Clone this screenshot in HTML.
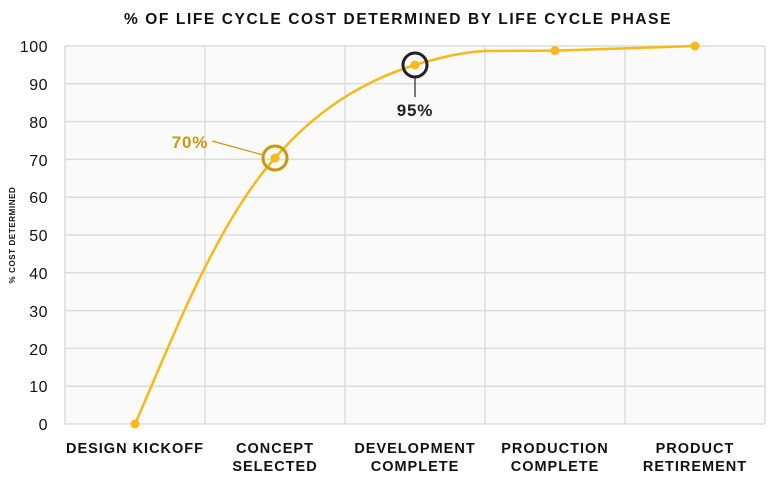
<!DOCTYPE html>
<html><head><style>
body{margin:0;background:#fff}
svg{display:block}
text{font-family:"Liberation Sans",sans-serif}
</style></head><body>
<svg width="773" height="482" viewBox="0 0 773 482">
<text x="398" y="24" text-anchor="middle" font-size="15.5" font-weight="bold" fill="#111" letter-spacing="1.6">% OF LIFE CYCLE COST DETERMINED BY LIFE CYCLE PHASE</text>
<rect x="65" y="46" width="700" height="378" fill="#fafafa"/>
<g stroke="#dcdcdc" stroke-width="1.5" fill="none">
<line x1="65" y1="46" x2="765" y2="46"/><line x1="65" y1="83.8" x2="765" y2="83.8"/><line x1="65" y1="121.6" x2="765" y2="121.6"/><line x1="65" y1="159.4" x2="765" y2="159.4"/><line x1="65" y1="197.2" x2="765" y2="197.2"/><line x1="65" y1="235" x2="765" y2="235"/><line x1="65" y1="272.8" x2="765" y2="272.8"/><line x1="65" y1="310.6" x2="765" y2="310.6"/><line x1="65" y1="348.4" x2="765" y2="348.4"/><line x1="65" y1="386.2" x2="765" y2="386.2"/><line x1="65" y1="424" x2="765" y2="424"/>
<line x1="65" y1="46" x2="65" y2="424"/><line x1="205" y1="46" x2="205" y2="424"/><line x1="345" y1="46" x2="345" y2="424"/><line x1="485" y1="46" x2="485" y2="424"/><line x1="625" y1="46" x2="625" y2="424"/><line x1="765" y1="46" x2="765" y2="424"/>
</g>
<g font-size="16" fill="#111" text-anchor="end" letter-spacing="0.5">
<text x="48" y="52">100</text><text x="48" y="90">90</text><text x="48" y="128">80</text><text x="48" y="166">70</text><text x="48" y="203">60</text><text x="48" y="241">50</text><text x="48" y="279">40</text><text x="48" y="317">30</text><text x="48" y="355">20</text><text x="48" y="392">10</text><text x="48" y="430">0</text>
</g>
<text transform="translate(15,235) rotate(-90)" text-anchor="middle" font-size="8" font-weight="bold" fill="#111" letter-spacing="0.6">% COST DETERMINED</text>
<g font-size="14.5" font-weight="bold" fill="#111" text-anchor="middle" letter-spacing="1">
<text x="135" y="453">DESIGN KICKOFF</text>
<text x="275" y="453">CONCEPT</text><text x="275" y="471">SELECTED</text>
<text x="415" y="453">DEVELOPMENT</text><text x="415" y="471">COMPLETE</text>
<text x="555" y="453">PRODUCTION</text><text x="555" y="471">COMPLETE</text>
<text x="695" y="453">PRODUCT</text><text x="695" y="471">RETIREMENT</text>
</g>
<path d="M135,424 C170,345 215,225 275,158 C315,112 360,82 415,65 C445,56 465,52 485,51 L555,50.6 L695,46" fill="none" stroke="#f8b818" stroke-width="2.5"/>
<g fill="#f8b818">
<circle cx="135" cy="424" r="4.5"/><circle cx="275" cy="158" r="4.5"/><circle cx="415" cy="65" r="4.5"/><circle cx="555" cy="50.6" r="4.5"/><circle cx="695" cy="46" r="4.5"/>
</g>
<circle cx="275" cy="158" r="12" fill="none" stroke="#c9980f" stroke-width="3"/>
<line x1="212" y1="141" x2="263" y2="155" stroke="#c9980f" stroke-width="1.2"/>
<text x="190" y="148" text-anchor="middle" font-size="17" font-weight="bold" fill="#c9980f" letter-spacing="0.8">70%</text>
<circle cx="415" cy="65" r="12" fill="none" stroke="#222" stroke-width="3"/>
<line x1="415" y1="77" x2="415" y2="97" stroke="#222" stroke-width="1.2"/>
<text x="415" y="116" text-anchor="middle" font-size="17" font-weight="bold" fill="#222" letter-spacing="0.8">95%</text>
</svg>
</body></html>
